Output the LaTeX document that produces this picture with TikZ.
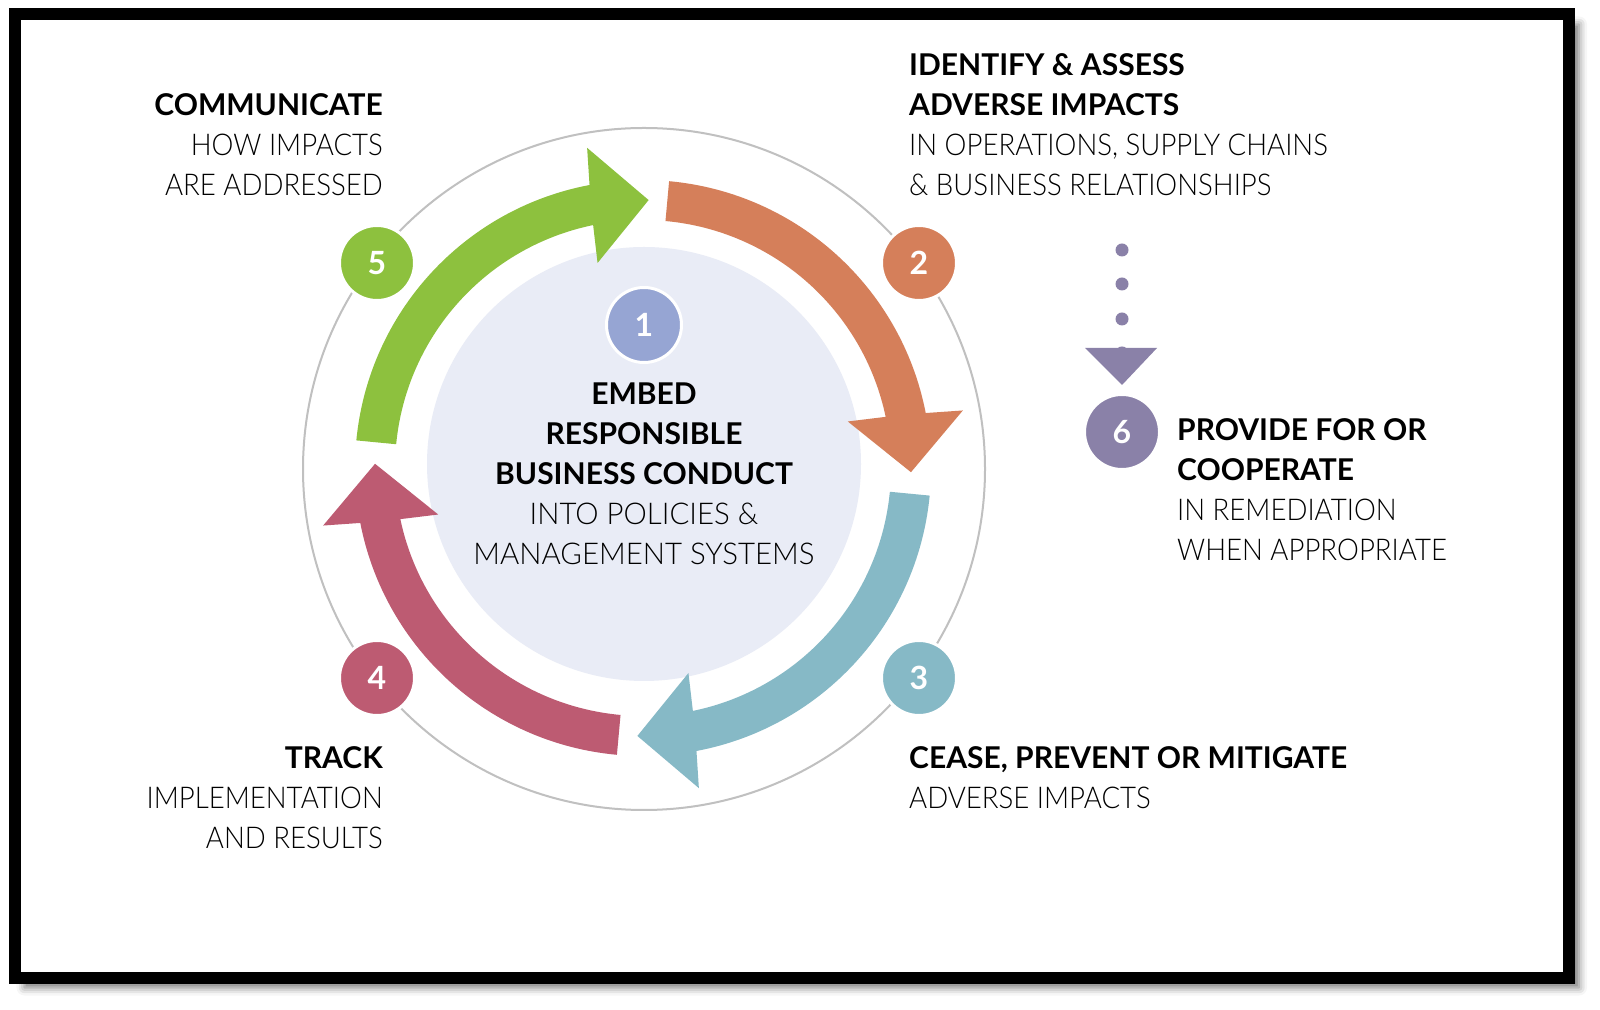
\documentclass[tikz,border=0pt]{standalone}
\usepackage{fontspec}
\setmainfont{Lato}
\newfontfamily\lightfont{Lato Light}[FakeStretch=0.92]
\newfontfamily\lightfontc{Lato Light}[FakeStretch=0.98]
\usetikzlibrary{shadows.blur}
\definecolor{cgreen}{RGB}{141,193,62}
\definecolor{corange}{RGB}{213,127,90}
\definecolor{cteal}{RGB}{134,185,198}
\definecolor{cred}{RGB}{189,91,114}
\definecolor{cblue}{RGB}{150,165,211}
\definecolor{cpurple}{RGB}{138,129,168}
\definecolor{cinner}{RGB}{233,236,246}
\definecolor{cring}{RGB}{192,192,192}
\newcommand\cyclearrow[2]{% #1 tail angle, #2 colour
  \fill[#2] ({#1}:288) arc[start angle={#1}, end angle={#1-73.8}, radius=288]
    -- ({#1-74.6}:325) -- ({#1-85.7}:268) -- ({#1-72}:210) -- ({#1-72.9}:248)
    arc[start angle={#1-72.9}, end angle={#1}, radius=248] -- cycle;}
\begin{document}
\begin{tikzpicture}[x=1pt,y=1pt,
  boldtxt/.style={font=\fontsize{30}{40}\selectfont\bfseries, inner sep=0pt},
  lighttxt/.style={font=\fontsize{30}{40}\selectfont\lightfont, inner sep=0pt},
  lightctr/.style={font=\fontsize{30}{40}\selectfont\lightfontc, inner sep=0pt},
  badge/.style={circle, minimum size=75pt, inner sep=0pt, draw=white, line width=3pt,
    text=white, font=\fontsize{32}{32}\selectfont\bfseries},
  dotmark/.style={fill=cpurple}]
\useasboundingbox (0,0) rectangle (1600,1009);
% frame with shadow
\path[fill=white, draw=black, line width=12pt,
  blur shadow={shadow xshift=10pt, shadow yshift=-10pt, shadow blur radius=8pt, shadow opacity=55}]
  (14.5,31.5) rectangle (1569,994.5);
% ring and inner disc
\draw[cring, line width=2pt] (644,540) circle[radius=341];
\fill[cinner] (644,545) circle[radius=217];
% cycle arrows
\begin{scope}[shift={(643,541)}]
  \cyclearrow{174.5}{cgreen}
  \cyclearrow{84.8}{corange}
  \cyclearrow{-5.5}{cteal}
  \cyclearrow{-95.2}{cred}
\end{scope}
% badges
\node[badge, fill=cblue]   (b1) at (644,684) {1};
\node[badge, fill=corange] (b2) at (919,746) {2};
\node[badge, fill=cteal]   (b3) at (919,331) {3};
\node[badge, fill=cred]    (b4) at (377,331) {4};
\node[badge, fill=cgreen]  (b5) at (377,746) {5};
\node[badge, fill=cpurple] (b6) at (1122,577) {6};
% dotted arrow towards 6
\fill[dotmark] (1122,759) circle[radius=6.5];
\fill[dotmark] (1122,725) circle[radius=6.5];
\fill[dotmark] (1122,690) circle[radius=6.5];
\fill[dotmark] (1122,656) circle[radius=6.5];
\fill[dotmark] (1085,661) -- (1157,661) -- (1122,624) -- cycle;
% centre text
\node[boldtxt, anchor=base]  (e1) at (644,604) {EMBED};
\node[boldtxt, anchor=base]  (e2) at (644,564) {RESPONSIBLE};
\node[boldtxt, anchor=base]  (e3) at (644,524) {BUSINESS CONDUCT};
\node[lightctr, anchor=base] (e4) at (644,484) {INTO POLICIES \&};
\node[lightctr, anchor=base] (e5) at (644,444) {MANAGEMENT SYSTEMS};
% communicate
\node[boldtxt, anchor=base east]  (c1) at (383,893) {COMMUNICATE};
\node[lighttxt, anchor=base east] (c2) at (383,853) {HOW IMPACTS};
\node[lighttxt, anchor=base east] (c3) at (383,813) {ARE ADDRESSED};
% identify
\node[boldtxt, anchor=base west]  (i1) at (909,933) {IDENTIFY \& ASSESS};
\node[boldtxt, anchor=base west]  (i2) at (909,893) {ADVERSE IMPACTS};
\node[lighttxt, anchor=base west] (i3) at (909,853) {IN OPERATIONS, SUPPLY CHAINS};
\node[lighttxt, anchor=base west] (i4) at (909,813) {\& BUSINESS RELATIONSHIPS};
% provide
\node[boldtxt, anchor=base west]  (p1) at (1177,568) {PROVIDE FOR OR};
\node[boldtxt, anchor=base west]  (p2) at (1177,528) {COOPERATE};
\node[lighttxt, anchor=base west] (p3) at (1177,488) {IN REMEDIATION};
\node[lighttxt, anchor=base west] (p4) at (1177,448) {WHEN APPROPRIATE};
% cease
\node[boldtxt, anchor=base west]  (s1) at (909,240) {CEASE, PREVENT OR MITIGATE};
\node[lighttxt, anchor=base west] (s2) at (909,200) {ADVERSE IMPACTS};
% track
\node[boldtxt, anchor=base east]  (t1) at (383,240) {TRACK};
\node[lighttxt, anchor=base east] (t2) at (383,200) {IMPLEMENTATION};
\node[lighttxt, anchor=base east] (t3) at (383,160) {AND RESULTS};
\end{tikzpicture}
\end{document}
